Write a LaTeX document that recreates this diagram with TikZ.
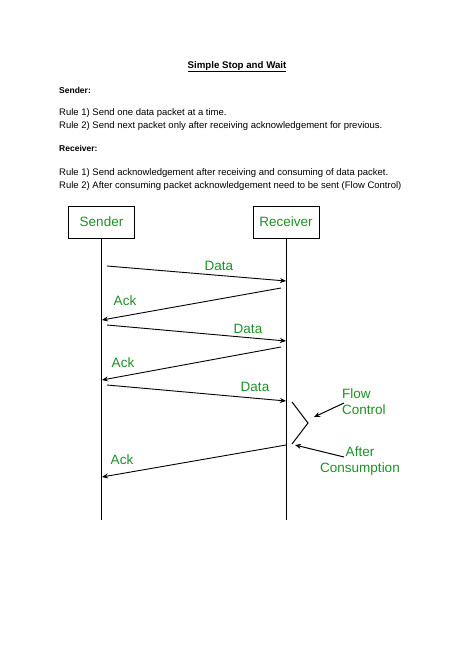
\documentclass[tikz,border=0pt]{standalone}
\usepackage{fontspec}
\setmainfont{Liberation Sans}
\usetikzlibrary{arrows.meta}
\definecolor{lblgreen}{RGB}{28,145,38}
\begin{document}
\begin{tikzpicture}[x=1pt,y=-1pt,
  body/.style={anchor=base west, inner sep=0pt, font=\fontsize{9.5}{12}\selectfont},
  head/.style={anchor=base west, inner sep=0pt, font=\fontsize{8.5}{10}\selectfont\bfseries},
  ttl/.style={anchor=base, inner sep=0pt, font=\fontsize{9.7}{12}\selectfont\bfseries},
  actor/.style={draw, line width=1pt, minimum width=66pt, minimum height=32pt, inner sep=0pt, text=lblgreen, font=\fontsize{13.5}{16}\selectfont},
  lbl/.style={text=lblgreen, font=\fontsize{13.5}{16}\selectfont, inner sep=0pt},
  life/.style={line width=1pt},
  msg/.style={line width=0.9pt, -{Stealth[length=6pt,width=5pt]}},
  note/.style={line width=1pt, -{Stealth[length=6pt,width=5pt]}},
]
\useasboundingbox[fill=white] (0,0) rectangle (474,670);
% header text
\node[ttl] (title) at (237,68) {\underline{Simple Stop and Wait}};
\node[head] (shead) at (59,93) {Sender:};
\node[body] (s1) at (59,115) {Rule 1) Send one data packet at a time.};
\node[body] (s2) at (59,128) {Rule 2) Send next packet only after receiving acknowledgement for previous.};
\node[head] (rhead) at (59,151) {Receiver:};
\node[body] (r1) at (59,175) {Rule 1) Send acknowledgement after receiving and consuming of data packet.};
\node[body] (r2) at (59,188) {Rule 2) After consuming packet acknowledgement need to be sent (Flow Control)};
% actors
\node[actor] (snd) at (101.5,222) {Sender};
\node[actor] (rcv) at (286,222) {Receiver};
\coordinate (send) at (snd.south |- 0,520);
\coordinate (rend) at (rcv.south |- 0,520);
\draw[life] (snd.south) -- (send);
\draw[life] (rcv.south) -- (rend);
% message points
\coordinate (d1s) at (107,266); \coordinate (d1e) at (286,281);
\coordinate (a1s) at (281,288); \coordinate (a1e) at (102,320);
\coordinate (d2s) at (107,325); \coordinate (d2e) at (286,341);
\coordinate (a2s) at (281,347); \coordinate (a2e) at (102,380);
\coordinate (d3s) at (107,385); \coordinate (d3e) at (286,401);
\coordinate (a3s) at (286,445); \coordinate (a3e) at (102,477);
\draw[msg] (d1s) -- (d1e);
\draw[msg] (a1s) -- (a1e);
\draw[msg] (d2s) -- (d2e);
\draw[msg] (a2s) -- (a2e);
\draw[msg] (d3s) -- (d3e);
\draw[msg] (a3s) -- (a3e);
\node[lbl] (ld1) at (219,266) {Data};
\node[lbl] (la1) at (125,301) {Ack};
\node[lbl] (ld2) at (248,329) {Data};
\node[lbl] (la2) at (123,363) {Ack};
\node[lbl] (ld3) at (255,387) {Data};
\node[lbl] (la3) at (122,460) {Ack};
% flow control bracket
\coordinate (z1) at (292,402); \coordinate (z2) at (308,423); \coordinate (z3) at (292,444);
\draw[life] (z1) -- (z2) -- (z3);
\node[lbl, anchor=west, align=left] (fc) at (342,402) {Flow\\Control};
\node[lbl, align=center] (ac) at (360,461) {After\\Consumption};
\coordinate (fcs) at (344,403); \coordinate (fce) at (314,417);
\coordinate (acs) at (344,457); \coordinate (ace) at (295,445);
\draw[note] (fcs) -- (fce);
\draw[note] (acs) -- (ace);
\end{tikzpicture}
\end{document}
